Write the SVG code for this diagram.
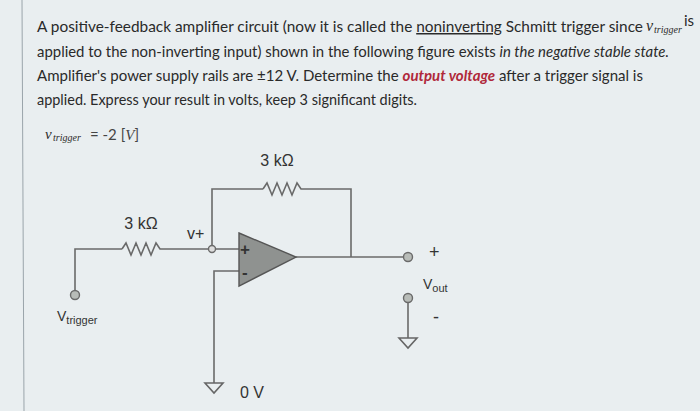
<svg xmlns="http://www.w3.org/2000/svg" width="700" height="411" viewBox="0 0 700 411">
<style>
.t{font-family:Lato,"Open Sans",sans-serif;font-size:15px;fill:#2a2a2a}
.c{font-family:"Liberation Sans",Arial,sans-serif;fill:#333}
.w{fill:none;stroke:#6a6a6a;stroke-width:1.6}
.term{fill:#b8bcb8;stroke:#6a6a6a;stroke-width:1.4}
.m{font-family:"Liberation Serif",serif;font-style:italic;fill:#2a2a2a}
</style>
<rect width="700" height="411" fill="#e9eef0"/>
<line x1="22" y1="0" x2="24" y2="411" stroke="#9aa4aa" stroke-width="1"/>
<g id="question">
<text class="t" x="37" y="32" textLength="606" lengthAdjust="spacingAndGlyphs">A positive-feedback amplifier circuit (now it is called the <tspan text-decoration="underline">noninverting</tspan> Schmitt trigger since</text>
<text class="m" x="646" y="31" font-size="16">v</text>
<text class="m" x="654" y="33" font-size="10">trigger</text>
<text class="t" x="684" y="26">is</text>
<text class="t" x="37" y="57" textLength="632" lengthAdjust="spacingAndGlyphs">applied to the non-inverting input) shown in the following figure exists <tspan font-style="italic">in the negative stable state.</tspan></text>
<text class="t" x="37" y="81" textLength="606" lengthAdjust="spacingAndGlyphs">Amplifier's power supply rails are ±12 V. Determine the <tspan font-style="italic" font-weight="bold" fill="#b0283a">output voltage</tspan> after a trigger signal is</text>
<text class="t" x="37" y="105" textLength="380" lengthAdjust="spacingAndGlyphs">applied. Express your result in volts, keep 3 significant digits.</text>
<text class="m" x="45" y="139" font-size="15" fill="#444">v</text>
<text class="m" x="53" y="141" font-size="10" fill="#444">trigger</text>
<text x="90" y="140" font-family="Lato,sans-serif" font-size="15" fill="#444">= -2 [<tspan font-family="Liberation Serif,serif" font-style="italic">V</tspan>]</text>
</g>
<g id="connectors">
<polyline class="w" points="75,291 75,249 122,249"/>
<polyline class="w" points="122,249 126,243 131,255 136,243 141,255 146,243 151,255 156,243 160,249 212,249 239,249"/>
<polyline class="w" points="212,249 212,189 263,189"/>
<polyline class="w" points="263,189 267,183 272,195 277,183 282,195 287,183 292,195 297,183 301,189 351,189 351,257"/>
<polyline class="w" points="239,271 214,271 214,383"/>
<polyline class="w" points="296,257 404,257"/>
<polyline class="w" points="408,302 408,338"/>
</g>
<g id="opamp">
<polygon points="239,233 296,257 239,286" fill="#8f9290" stroke="#555" stroke-width="1.4"/>
<text class="c" x="240" y="255" font-size="17" font-weight="bold" fill="#222">+</text>
<text class="c" x="242" y="278" font-size="17" font-weight="bold" fill="#222">-</text>
</g>
<g id="node-vplus"><circle cx="212" cy="249" r="3.5" fill="#ddd" stroke="#6a6a6a" stroke-width="1.4"/><text class="c" x="187" y="239" font-size="16">v+</text></g>
<g id="r1"><text class="c" x="141" y="229" font-size="16" text-anchor="middle">3 kΩ</text></g>
<g id="r2"><text class="c" x="277" y="166" font-size="16" text-anchor="middle">3 kΩ</text></g>
<g id="vtrigger"><circle class="term" cx="75" cy="295" r="4.5"/><text class="c" x="57" y="321" font-size="14">V<tspan font-size="11" dy="3">trigger</tspan></text></g>
<g id="gnd-0v"><polygon points="205,383 223,383 214,393" fill="none" stroke="#666" stroke-width="1.6"/><text class="c" x="240" y="398" font-size="16">0 V</text></g>
<g id="vout">
<circle class="term" cx="408" cy="257" r="4.5"/>
<circle class="term" cx="408" cy="298" r="4.5"/>
<polygon points="399,338 417,338 408,348" fill="none" stroke="#666" stroke-width="1.6"/>
<text class="c" x="429" y="258" font-size="18">+</text>
<text class="c" x="423" y="289" font-size="14">V<tspan font-size="11" dy="3">out</tspan></text>
<text class="c" x="433" y="323" font-size="18">-</text>
</g>
</svg>
